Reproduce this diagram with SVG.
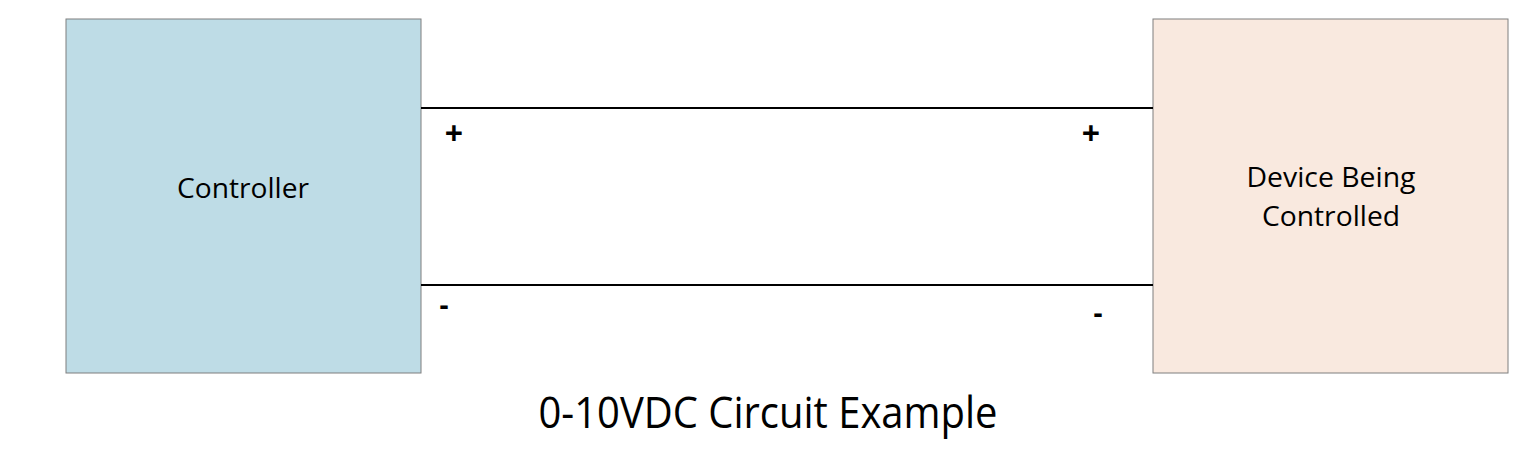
<svg xmlns="http://www.w3.org/2000/svg" width="1536" height="473" viewBox="0 0 1536 473">
<style>
.box{stroke:#7f7f7f;stroke-width:1}
.t{font-family:"Open Sans","Liberation Sans",sans-serif;fill:#000}
.wire{stroke:#000;stroke-width:2;fill:none}
.sign{font-family:"Open Sans","Liberation Sans",sans-serif;font-weight:bold;fill:#000;text-anchor:middle}
</style>
<rect width="1536" height="473" fill="#fff"/>
<g id="controller">
<rect class="box" x="66" y="19" width="355" height="354" fill="#bedce6"/>
<text class="t" x="243" y="198" font-size="27" text-anchor="middle" textLength="132" lengthAdjust="spacingAndGlyphs">Controller</text>
</g>
<g id="device">
<rect class="box" x="1153" y="19" width="355" height="354" fill="#f9e9df"/>
<text class="t" x="1331" y="187" font-size="27" text-anchor="middle" textLength="169" lengthAdjust="spacingAndGlyphs">Device Being</text>
<text class="t" x="1331" y="226" font-size="27" text-anchor="middle" textLength="138" lengthAdjust="spacingAndGlyphs">Controlled</text>
</g>
<g id="connectors">
<line class="wire" x1="421" y1="108" x2="1153" y2="108"/>
<line class="wire" x1="421" y1="285" x2="1153" y2="285"/>
<text class="sign" x="454" y="145" font-size="32">+</text>
<text class="sign" x="1091" y="145" font-size="32">+</text>
<text class="sign" x="444" y="315" font-size="28">-</text>
<text class="sign" x="1098" y="323" font-size="28">-</text>
</g>
<text class="t" x="768" y="428" font-size="44" text-anchor="middle" textLength="459" lengthAdjust="spacingAndGlyphs">0-10VDC Circuit Example</text>
</svg>
